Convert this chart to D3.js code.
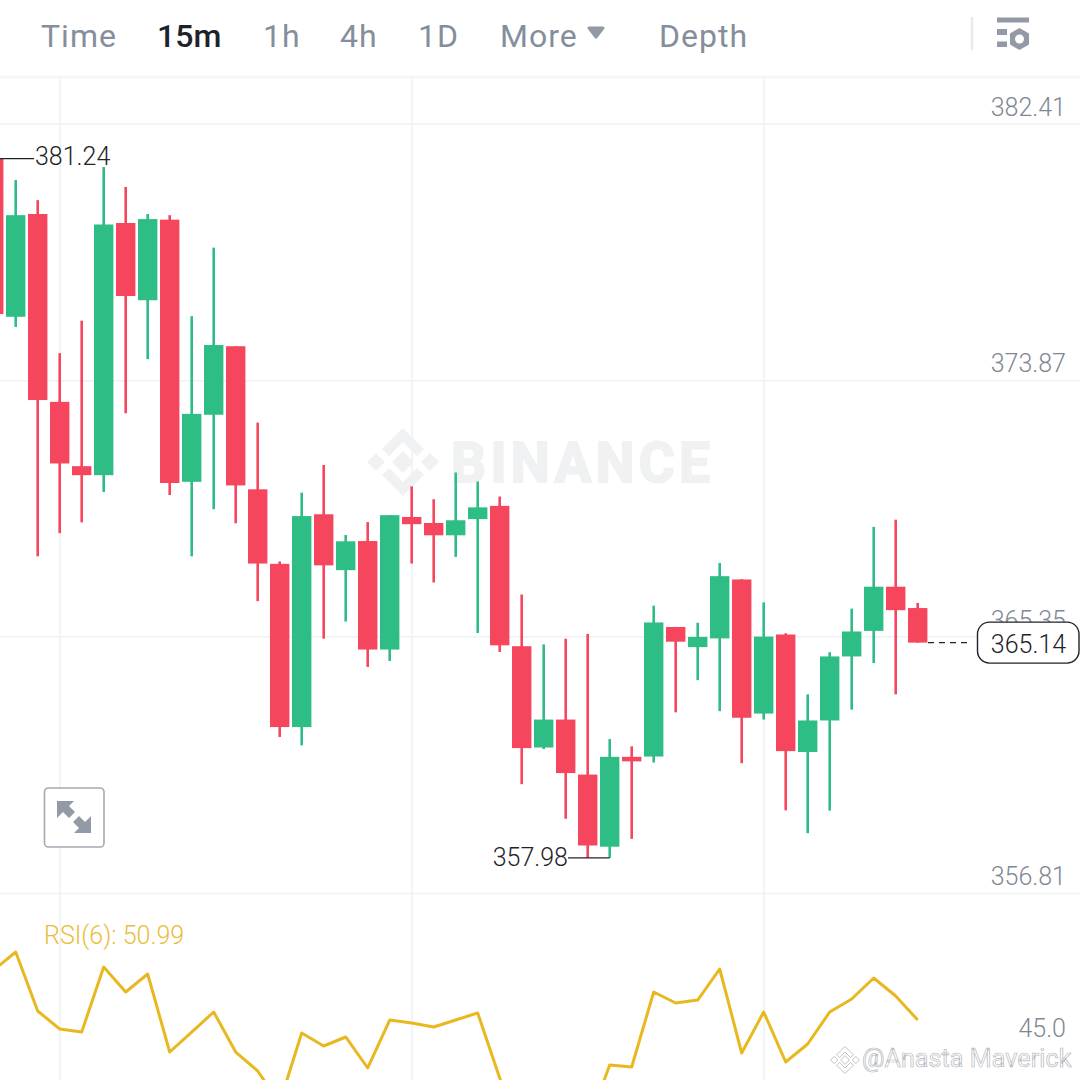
<!DOCTYPE html>
<html>
<head>
<meta charset="utf-8">
<script src="https://cdn.jsdelivr.net/npm/d3@7"></script>
<style>
  html, body { margin: 0; padding: 0; background: #fff; overflow: hidden; }
  svg { display: block; font-family: Roboto, sans-serif; }
</style>
</head>
<body>
<div id="chart"></div>
<script>
// candles, left to right (first one is cut by the left edge)
var opens = [381.23,375.98,379.40,373.15,371.01,370.71,379.10,376.53,379.21,370.49,372.72,375.00,370.24,367.76,362.33,369.41,367.55,368.52,364.91,369.32,369.12,368.71,369.25,369.69,365.02,361.65,362.58,360.75,358.35,361.34,361.35,365.66,364.99,365.28,367.24,362.78,365.41,361.50,362.55,364.68,365.53,367.00,366.29];
var highs = [381.24,380.53,379.86,374.77,375.85,380.96,380.30,379.40,379.36,376.00,378.28,375.00,372.46,367.84,370.13,371.05,368.72,369.15,369.38,370.34,369.91,370.80,370.50,370.00,366.74,365.08,365.27,365.43,361.93,361.69,366.37,365.66,365.80,367.79,367.25,366.48,365.45,363.42,364.82,366.27,368.99,369.23,366.46];
var lows = [376.07,375.64,368.01,368.78,369.14,370.15,372.77,374.57,370.05,368.01,369.58,369.11,366.52,362.00,361.72,365.27,365.84,364.33,364.53,367.77,367.14,367.99,365.46,364.83,360.43,361.60,359.28,357.98,357.98,358.61,361.15,362.82,363.89,362.86,361.13,362.58,359.56,358.80,359.55,362.91,364.46,363.42,365.14];
var closes = [376.07,379.36,373.21,371.10,370.71,379.05,376.67,379.23,370.45,372.75,375.04,370.37,367.77,362.33,369.35,367.71,368.51,364.91,369.38,369.08,368.71,369.21,369.64,365.05,361.63,362.58,360.80,358.39,361.34,361.19,365.81,365.17,365.33,367.35,362.64,365.34,361.53,362.55,364.68,365.51,367.00,366.22,365.14];

// RSI(6), the low ones run off the bottom of the picture
var rsiValues = [62.97,67.28,53.15,48.83,48.11,63.69,57.70,62.01,43.32,48.11,52.91,43.32,38.77,31.10,47.88,44.76,46.92,39.49,50.99,50.27,49.31,50.99,52.67,37.09,24.63,27.00,23.40,25.83,40.21,39.73,57.70,55.06,55.78,63.21,43.08,52.91,40.93,45.24,52.91,56.02,61.05,56.74,50.99];

var priceTicks = [356.81, 365.35, 373.87, 382.41];
var rsiTicks = [45.0];
var timeTicks = [3, 19, 35];

var width = 1080, height = 1080;
var textDark = "#1e2329", textGrey = "#929aa5", gridColor = "#eff1f3";
var up = "#2ebd85", down = "#f6465d", rsiColor = "#e9b820";

var svg = d3.select("#chart").append("svg")
    .attr("width", width).attr("height", height);

var x = d3.scaleLinear().domain([0, closes.length - 1]).range([-6.3, 917.7]);
var y = d3.scaleLinear().domain([356.81, 382.41]).range([893, 123.5]);
var rsiY = d3.scaleLinear().domain([45, 50.99]).range([1045, 1020]);

function addText(px, py, str, size, color, anchor, weight) {
  return svg.append("text")
      .attr("x", px).attr("y", py)
      .attr("font-size", size)
      .attr("fill", color)
      .attr("text-anchor", anchor || "start")
      .attr("dominant-baseline", "central")
      .attr("font-weight", weight || 400)
      .text(str);
}

// header tabs
function addTab(px, str) {
  addText(px, 36, str, 32, "#848e9c").attr("letter-spacing", 1);
}
addTab(41, "Time");
addText(157, 36, "15m", 32, textDark, "start", 500);
addTab(263, "1h");
addTab(340, "4h");
addTab(418, "1D");
addTab(500, "More");
addTab(659, "Depth");
svg.append("path").attr("d", "M589 28H603L596 37Z")
    .attr("fill", "#929aa5").attr("stroke", "#929aa5").attr("stroke-width", 3).attr("stroke-linejoin", "round");
svg.append("line").attr("x1", 972).attr("x2", 972).attr("y1", 17).attr("y2", 50)
    .attr("stroke", "#e8eaed").attr("stroke-width", 2.5);

// settings icon
var icon = svg.append("g").attr("fill", "#929aa5");
icon.append("rect").attr("x", 997).attr("y", 17.5).attr("width", 32).attr("height", 5);
icon.append("rect").attr("x", 997).attr("y", 29).attr("width", 10).attr("height", 6);
icon.append("rect").attr("x", 997).attr("y", 41.5).attr("width", 10).attr("height", 5.5);
icon.append("path").attr("d", "M1019.5 28L1029 33.5V44.5L1019.5 50L1010 44.5V33.5Z");
icon.append("circle").attr("cx", 1019.5).attr("cy", 39).attr("r", 4.5).attr("fill", "#fff");

svg.append("line").attr("x1", 0).attr("x2", width).attr("y1", 77).attr("y2", 77)
    .attr("stroke", "#f5f6f6").attr("stroke-width", 3);

// time grid
var timeGrid = svg.append("g")
    .attr("transform", "translate(0,1080)")
    .call(d3.axisBottom(x).tickValues(timeTicks).tickSize(-1001).tickFormat(""));
timeGrid.select(".domain").remove();
timeGrid.selectAll("line").attr("stroke", gridColor).attr("stroke-width", 1.5);

// binance logo, centred on 0,0
function drawLogo(g) {
  g.append("path").attr("d", "M0 -11L11 0L0 11L-11 0Z");
  g.append("path").attr("d", "M-27 -9L-18 0L-27 9L-36 0Z");
  g.append("path").attr("d", "M27 -9L36 0L27 9L18 0Z");
  g.append("path").attr("d", "M0 -34L21 -13L14 -6L0 -20L-14 -6L-21 -13Z");
  g.append("path").attr("d", "M0 34L21 13L14 6L0 20L-14 6L-21 13Z");
}
var logo = svg.append("g").attr("transform", "translate(403,462)").attr("fill", "#f0f1f2");
drawLogo(logo);
addText(451, 463, "BINANCE", 55, "#f0f1f2", "start", 700)
    .attr("textLength", 259)
    .attr("stroke", "#f0f1f2").attr("stroke-width", 2);

// price grid and labels
var priceAxis = svg.append("g")
    .call(d3.axisRight(y).tickValues(priceTicks).tickSize(width).tickFormat(d3.format(".2f")));
priceAxis.select(".domain").remove();
priceAxis.selectAll("line").attr("stroke", gridColor).attr("stroke-width", 1.5);
priceAxis.selectAll("text")
    .attr("x", 1066).attr("dy", "-0.33em")
    .attr("text-anchor", "end")
    .attr("font-family", "Roboto, sans-serif")
    .attr("font-size", 25).attr("font-weight", 300)
    .attr("fill", "#7f8894");

// candles
var candles = svg.append("g").selectAll("g")
    .data(closes)
    .enter().append("g")
      .attr("fill", function(d, i) { return d >= opens[i] ? up : down; });

candles.append("rect")
    .attr("x", function(d, i) { return x(i) - 1.3; })
    .attr("width", 2.6)
    .attr("y", function(d, i) { return y(highs[i]); })
    .attr("height", function(d, i) { return y(lows[i]) - y(highs[i]); });

candles.append("rect")
    .attr("x", function(d, i) { return x(i) - 9.7; })
    .attr("width", 19.4)
    .attr("y", function(d, i) { return y(Math.max(d, opens[i])); })
    .attr("height", function(d, i) { return Math.abs(y(d) - y(opens[i])); });

// highest and lowest price notes
var maxPrice = d3.max(highs), minPrice = d3.min(lows);
svg.append("line").attr("x1", 0).attr("x2", 34)
    .attr("y1", y(maxPrice)).attr("y2", y(maxPrice))
    .attr("stroke", textDark).attr("stroke-width", 1.2);
addText(35, y(maxPrice) - 2, maxPrice.toFixed(2), 25, textDark, "start", 300);
svg.append("line").attr("x1", 568).attr("x2", x(28))
    .attr("y1", y(minPrice)).attr("y2", y(minPrice))
    .attr("stroke", textDark).attr("stroke-width", 1.2);
addText(568, y(minPrice), minPrice.toFixed(2), 25, textDark, "end", 300);

// last price
var lastClose = closes[closes.length - 1];
svg.append("line").attr("x1", 928).attr("x2", 967)
    .attr("y1", y(lastClose)).attr("y2", y(lastClose))
    .attr("stroke", textDark).attr("stroke-width", 1.2)
    .attr("stroke-dasharray", "6 5");
svg.append("rect")
    .attr("x", 977.5).attr("y", y(lastClose) - 20.5)
    .attr("width", 101.5).attr("height", 41).attr("rx", 12)
    .attr("fill", "#fff").attr("stroke", textDark).attr("stroke-width", 1.4);
addText(1028.5, y(lastClose) + 1.5, lastClose.toFixed(2), 25, textDark, "middle", 300);

// expand button
svg.append("rect").attr("x", 44.5).attr("y", 788).attr("width", 59.5).attr("height", 59).attr("rx", 4)
    .attr("fill", "#fff").attr("stroke", "#a4aab2").attr("stroke-width", 1.6);
var arrows = svg.append("g").attr("fill", "#929aa5");
arrows.append("path").attr("d", "M57 801H74L69 806L75 812L69 818L63 812L57 818Z");
arrows.append("path").attr("d", "M91 833H74L79 828L73 822L79 816L85 822L91 816Z");

// rsi
addText(44, 935, "RSI(6): " + rsiValues[rsiValues.length - 1].toFixed(2), 25, "#e9bd3c", "start", 300);

var rsiLine = d3.line()
    .x(function(d, i) { return x(i); })
    .y(function(d) { return rsiY(d); });

svg.append("path")
    .datum(rsiValues)
    .attr("fill", "none")
    .attr("stroke", rsiColor)
    .attr("stroke-width", 3)
    .attr("stroke-linejoin", "round")
    .attr("d", rsiLine);

var rsiAxis = svg.append("g")
    .call(d3.axisRight(rsiY).tickValues(rsiTicks).tickSize(0).tickFormat(d3.format(".1f")));
rsiAxis.select(".domain").remove();
rsiAxis.selectAll("text")
    .attr("x", 1066).attr("dy", "-0.36em")
    .attr("text-anchor", "end")
    .attr("font-family", "Roboto, sans-serif")
    .attr("font-size", 25).attr("font-weight", 300)
    .attr("fill", "#7f8894");

// post watermark in the corner
var markLogo = svg.append("g")
    .attr("transform", "translate(845,1060) scale(0.4)")
    .attr("fill", "#fff").attr("stroke", "#c0c3c7").attr("stroke-width", 2.5);
drawLogo(markLogo);
addText(862, 1058, "@Anasta Maverick", 25, "#fff", "start", 400)
    .attr("letter-spacing", 0.1)
    .attr("stroke", "#b4b8bc").attr("stroke-width", 0.7);
</script>
</body>
</html>
